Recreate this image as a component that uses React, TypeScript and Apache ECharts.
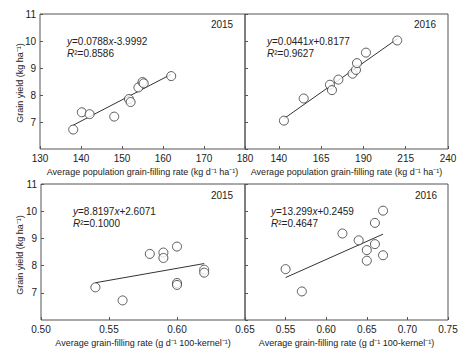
import React, { useEffect, useRef } from "react";
import * as echarts from "echarts";

// ---- data ----
const popRate2015 = [138.1, 140.2, 142.1, 148.1, 151.7, 152.1, 154.0, 155.0, 155.3, 162.0];
const popYield2015 = [6.72, 7.36, 7.29, 7.2, 7.85, 7.74, 8.28, 8.48, 8.43, 8.7];
const popRate2016 = [143.0, 154.7, 170.2, 171.4, 175.2, 183.6, 185.6, 186.2, 191.5, 210.0];
const popYield2016 = [7.05, 7.87, 8.38, 8.18, 8.57, 8.79, 8.93, 9.18, 9.57, 10.02];
const kernelRate2015 = [0.54, 0.56, 0.58, 0.59, 0.59, 0.6, 0.6, 0.6, 0.62, 0.62];
const kernelYield2015 = [7.2, 6.72, 8.43, 8.48, 8.28, 8.7, 7.36, 7.29, 7.85, 7.74];
const kernelRate2016 = [0.55, 0.57, 0.62, 0.64, 0.65, 0.65, 0.66, 0.66, 0.67, 0.67];
const kernelYield2016 = [7.87, 7.05, 9.18, 8.93, 8.57, 8.18, 9.57, 8.79, 10.02, 8.38];

// regression coefficients [slope, intercept] and R²
const fitSlopes = [0.0788, 0.0441, 8.8197, 13.299];
const fitIntercepts = [-3.9992, 0.8177, 2.6071, 0.2459];
const fitEquations = ["0.0788", "-3.9992", "0.0441", "+0.8177", "8.8197", "+2.6071", "13.299", "+0.2459"];
const fitR2 = ["0.8586", "0.9627", "0.1000", "0.4647"];
const yearLabels = ["2015", "2016", "2015", "2016"];

const popTicks2016 = [140, 165, 190, 215, 240];

const FONT = "'Liberation Sans', Arial, sans-serif";
const TXT = "#222";
const AX = "#555";

export default function App() {
  const ref = useRef<HTMLDivElement>(null);

  useEffect(() => {
    if (!ref.current) return;
    const chart = echarts.init(ref.current, undefined, { renderer: "svg" });

    const grids = [
      { left: 40, top: 14, width: 205, height: 135 },
      { left: 245, top: 14, width: 203, height: 135 },
      { left: 41, top: 184, width: 204, height: 136 },
      { left: 245, top: 184, width: 203, height: 136 },
    ].map((g) => ({ ...g, show: true, borderColor: AX, borderWidth: 1, backgroundColor: "transparent" }));

    const xs = [popRate2015, popRate2016, kernelRate2015, kernelRate2016];
    const ys = [popYield2015, popYield2016, kernelYield2015, kernelYield2016];

    const baseAxis = {
      axisLine: { show: false, onZero: false },
      axisTick: { show: true, inside: true, length: 3, lineStyle: { color: AX } },
      splitLine: { show: false },
      axisLabel: { color: TXT, fontSize: 10, fontFamily: FONT, margin: 4 },
      nameTextStyle: { color: TXT, fontSize: 9, fontFamily: FONT },
    };

    const popName = "Average population grain-filling rate (kg d\u207B\u00B9 ha\u207B\u00B9)";
    const kerName = "Average grain-filling rate (g d\u207B\u00B9 100-kernel\u207B\u00B9)";

    const xAxes: any[] = [
      {
        ...baseAxis, type: "value", gridIndex: 0, min: 130, max: 180, interval: 10,
        name: popName, nameLocation: "middle", nameGap: 18,
      },
      {
        ...baseAxis, type: "value", gridIndex: 1, min: 120, max: 240,
        name: popName, nameLocation: "middle", nameGap: 18,
        axisLabel: { ...baseAxis.axisLabel, customValues: popTicks2016 },
        axisTick: { ...baseAxis.axisTick, customValues: popTicks2016 },
      },
      {
        ...baseAxis, type: "value", gridIndex: 2, min: 0.5, max: 0.65, interval: 0.05,
        name: kerName, nameLocation: "middle", nameGap: 18,
        axisLabel: { ...baseAxis.axisLabel, formatter: (v: number) => v.toFixed(2) },
      },
      {
        ...baseAxis, type: "value", gridIndex: 3, min: 0.5, max: 0.75, interval: 0.05,
        name: kerName, nameLocation: "middle", nameGap: 18,
        axisLabel: { ...baseAxis.axisLabel, showMinLabel: false, formatter: (v: number) => v.toFixed(2) },
      },
    ];

    const yAxes: any[] = [0, 1, 2, 3].map((i) => ({
      ...baseAxis,
      type: "value",
      gridIndex: i,
      min: 6,
      max: 11,
      interval: 1,
      axisLabel: {
        ...baseAxis.axisLabel,
        show: i % 2 === 0,
        showMinLabel: false,
      },
    }));

    const series: any[] = [];
    for (let i = 0; i < 4; i++) {
      series.push({
        type: "scatter",
        xAxisIndex: i,
        yAxisIndex: i,
        symbol: "circle",
        symbolSize: 9,
        itemStyle: { color: "#fff", borderColor: "#333", borderWidth: 1 },
        data: xs[i].map((x, k) => [x, ys[i][k]]),
        z: 3,
      });
      const x0 = Math.min(...xs[i]);
      const x1 = Math.max(...xs[i]);
      series.push({
        type: "line",
        xAxisIndex: i,
        yAxisIndex: i,
        symbol: "none",
        lineStyle: { color: "#333", width: 1 },
        data: [
          [x0, fitSlopes[i] * x0 + fitIntercepts[i]],
          [x1, fitSlopes[i] * x1 + fitIntercepts[i]],
        ],
        z: 2,
      });
    }

    const eqPos = [
      [67, 41],
      [267, 41],
      [73, 211],
      [271, 211],
    ];
    const yearPos = [
      [222, 24],
      [425, 24],
      [222, 195],
      [426, 195],
    ];
    const rich = {
      i: { fontStyle: "italic", fontSize: 10, fontFamily: FONT, fill: TXT },
      n: { fontSize: 10, fontFamily: FONT, fill: TXT },
    };
    const graphic: any[] = [];
    for (let i = 0; i < 4; i++) {
      graphic.push({
        type: "text",
        x: eqPos[i][0],
        y: eqPos[i][1],
        style: {
          text: `{i|y}{n|=${fitEquations[2 * i]}}{i|x}{n|${fitEquations[2 * i + 1]}}`,
          rich,
          fontSize: 10,
          fontFamily: FONT,
          fill: TXT,
          verticalAlign: "middle",
        },
      });
      graphic.push({
        type: "text",
        x: eqPos[i][0],
        y: eqPos[i][1] + 12,
        style: {
          text: `{i|R}{n|\u00B2=${fitR2[i]}}`,
          rich,
          fontSize: 10,
          fontFamily: FONT,
          fill: TXT,
          verticalAlign: "middle",
        },
      });
      graphic.push({
        type: "text",
        x: yearPos[i][0],
        y: yearPos[i][1],
        style: {
          text: yearLabels[i],
          fontSize: 10,
          fontFamily: FONT,
          fill: TXT,
          align: "center",
          verticalAlign: "middle",
        },
      });
    }
    const yTitlePos = [
      [20, 83],
      [20, 255],
    ];
    for (const p of yTitlePos) {
      graphic.push({
        type: "text",
        x: p[0],
        y: p[1],
        rotation: Math.PI / 2,
        style: {
          text: "Grain yield (kg ha\u207B\u00B9)",
          fontSize: 9,
          fontFamily: FONT,
          fill: TXT,
          align: "center",
          verticalAlign: "middle",
        },
      });
    }

    chart.setOption({
      animation: false,
      backgroundColor: "#fff",
      grid: grids,
      xAxis: xAxes,
      yAxis: yAxes,
      series,
      graphic,
    });
    return () => chart.dispose();
  }, []);

  return (
    <div
      ref={ref}
      style={{ position: "absolute", left: 0, top: 0, width: 474, height: 364 }}
    />
  );
}
